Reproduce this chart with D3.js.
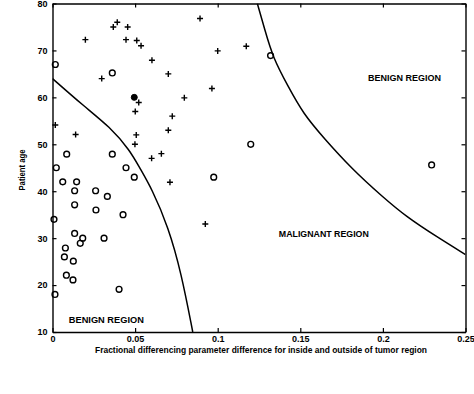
<!DOCTYPE html>
<html><head><meta charset="utf-8">
<script src="https://cdn.jsdelivr.net/npm/d3@7"></script>
<style>body{margin:0;background:#fff}svg{display:block}text{font-family:"Liberation Sans",Arial,sans-serif;fill:#000}</style>
</head><body><svg id="c" width="474" height="394"></svg>
<script>
const xTicks = [0, 0.05, 0.1, 0.15, 0.2, 0.25];
const xTickLabels = ["0", "0.05", "0.1", "0.15", "0.2", "0.25"];
const yTicks = [10, 20, 30, 40, 50, 60, 70, 80];
const yTickLabels = ["10", "20", "30", "40", "50", "60", "70", "80"];

// benign cases (circles): [fractional differencing difference, age]
const benign = [[0.0017,67],[0.0362,65.2],[0.0086,47.9],[0.0362,47.9],[0.0023,45],[0.0445,45],[0.0495,43],[0.12,50],[0.132,68.9],[0.2295,45.6],[0.0976,43],[0.0062,42],[0.0146,42],[0.0134,40.1],[0.0261,40.1],[0.0332,38.9],[0.0134,37.1],[0.0263,36],[0.0427,35],[0.0009,34],[0.0134,31],[0.0183,30],[0.0168,28.9],[0.0312,30],[0.0078,27.9],[0.0072,26],[0.0126,25.1],[0.0084,22.1],[0.0124,21.1],[0.0403,19.1],[0.0015,18]];
// filled dot
const filled = [[0.0495,60]];
// malignant cases (pluses)
const malignant = [[0.0392,76],[0.0368,75],[0.0455,75],[0.0199,72.3],[0.0445,72.3],[0.051,72.1],[0.0536,71],[0.0602,67.9],[0.0298,64],[0.0522,58.9],[0.0501,57],[0.0017,54.1],[0.014,52.1],[0.0507,52],[0.0499,50],[0.06,47],[0.0893,76.8],[0.1173,70.9],[0.1,69.9],[0.0701,65],[0.0965,61.9],[0.0798,59.9],[0.0725,56],[0.0701,53],[0.0659,48],[0.0711,41.9],[0.0925,33]];
// decision boundaries
const boundaryLeft = [[0,64],[0.0187,58.2],[0.0348,53.7],[0.0469,48.7],[0.053,44.8],[0.06,40.6],[0.0701,32.4],[0.078,22.5],[0.0849,10]];
const boundaryRight = [[0.124,80],[0.1286,74.3],[0.1334,68.5],[0.1425,62.4],[0.1518,56.5],[0.1643,51.3],[0.1811,44.8],[0.1995,38.9],[0.2144,34.5],[0.2326,30.3],[0.25,26.5]];
const regionLabels = [
  {text:"BENIGN REGION", x:0.191, y:64.2, w:73},
  {text:"MALIGNANT REGION", x:0.137, y:30.9, w:90},
  {text:"BENIGN REGION", x:0.0099, y:12.6, w:75}
];

const L=52.5, T=3.5, R=465.5, B=332;
const svg = d3.select("#c");
const x = d3.scaleLinear().domain([0,0.25]).range([L,R]);
const y = d3.scaleLinear().domain([10,80]).range([B,T]);

const defs = svg.append("defs");
defs.append("clipPath").attr("id","clip").append("rect").attr("x",L).attr("y",T).attr("width",R-L).attr("height",B-T);

// axes (inward ticks)
const fmt = (labels, ticks) => (d => labels[ticks.indexOf(d)]);
const axB = svg.append("g").attr("transform",`translate(0,${B})`)
  .call(d3.axisBottom(x).tickValues(xTicks).tickFormat(fmt(xTickLabels,xTicks)).tickSizeInner(-4).tickSizeOuter(0).tickPadding(3.5));
const axT = svg.append("g").attr("transform",`translate(0,${T})`)
  .call(d3.axisTop(x).tickValues(xTicks).tickFormat("").tickSizeInner(-4).tickSizeOuter(0));
const axL = svg.append("g").attr("transform",`translate(${L},0)`)
  .call(d3.axisLeft(y).tickValues(yTicks).tickFormat(fmt(yTickLabels,yTicks)).tickSizeInner(-4).tickSizeOuter(0).tickPadding(5));
const axR = svg.append("g").attr("transform",`translate(${R},0)`)
  .call(d3.axisRight(y).tickValues(yTicks).tickFormat("").tickSizeInner(-4).tickSizeOuter(0));
[axB,axT,axL,axR].forEach(a=>{
  a.selectAll(".domain").attr("stroke","#000").attr("stroke-width",1.4);
  a.selectAll(".tick line").attr("stroke","#000").attr("stroke-width",1.2);
  a.selectAll("text").style("font-size","9px").style("font-weight","bold").attr("fill","#000");
});

// boundaries
const line = d3.line().x(d=>x(d[0])).y(d=>y(d[1])).curve(d3.curveBasis);
const g = svg.append("g").attr("clip-path","url(#clip)");
[boundaryLeft, boundaryRight].forEach(b=>{
  g.append("path").attr("d",line(b)).attr("fill","none").attr("stroke","#000").attr("stroke-width",1.5);
});

// markers
svg.append("g").selectAll("circle").data(benign).join("circle")
  .attr("cx",d=>x(d[0])).attr("cy",d=>y(d[1])).attr("r",2.9)
  .attr("fill","none").attr("stroke","#000").attr("stroke-width",1.4);
svg.append("g").selectAll("circle").data(filled).join("circle")
  .attr("cx",d=>x(d[0])).attr("cy",d=>y(d[1])).attr("r",3)
  .attr("fill","#000").attr("stroke","#000").attr("stroke-width",1);
svg.append("g").selectAll("path").data(malignant).join("path")
  .attr("d",d=>{const cx=x(d[0]), cy=y(d[1]), s=3; return `M${cx-s},${cy}H${cx+s}M${cx},${cy-s}V${cy+s}`;})
  .attr("stroke","#000").attr("stroke-width",1.4).attr("fill","none");

// region labels
svg.append("g").selectAll("text").data(regionLabels).join("text")
  .attr("x",d=>x(d.x)).attr("y",d=>y(d.y)+3)
  .attr("textLength",d=>d.w).attr("lengthAdjust","spacingAndGlyphs")
  .style("font-size","8.5px").style("font-weight","bold").text(d=>d.text);

// axis titles
svg.append("text").attr("x",(95+427)/2).attr("y",352.5).attr("text-anchor","middle")
  .attr("textLength",332).attr("lengthAdjust","spacingAndGlyphs")
  .style("font-size","8.5px").style("font-weight","bold")
  .text("Fractional differencing parameter difference for inside and outside of tumor region");
svg.append("text").attr("transform","translate(25,170) rotate(-90)").attr("text-anchor","middle")
  .attr("textLength",41).attr("lengthAdjust","spacingAndGlyphs")
  .style("font-size","8.5px").style("font-weight","bold").text("Patient age");
</script></body></html>
